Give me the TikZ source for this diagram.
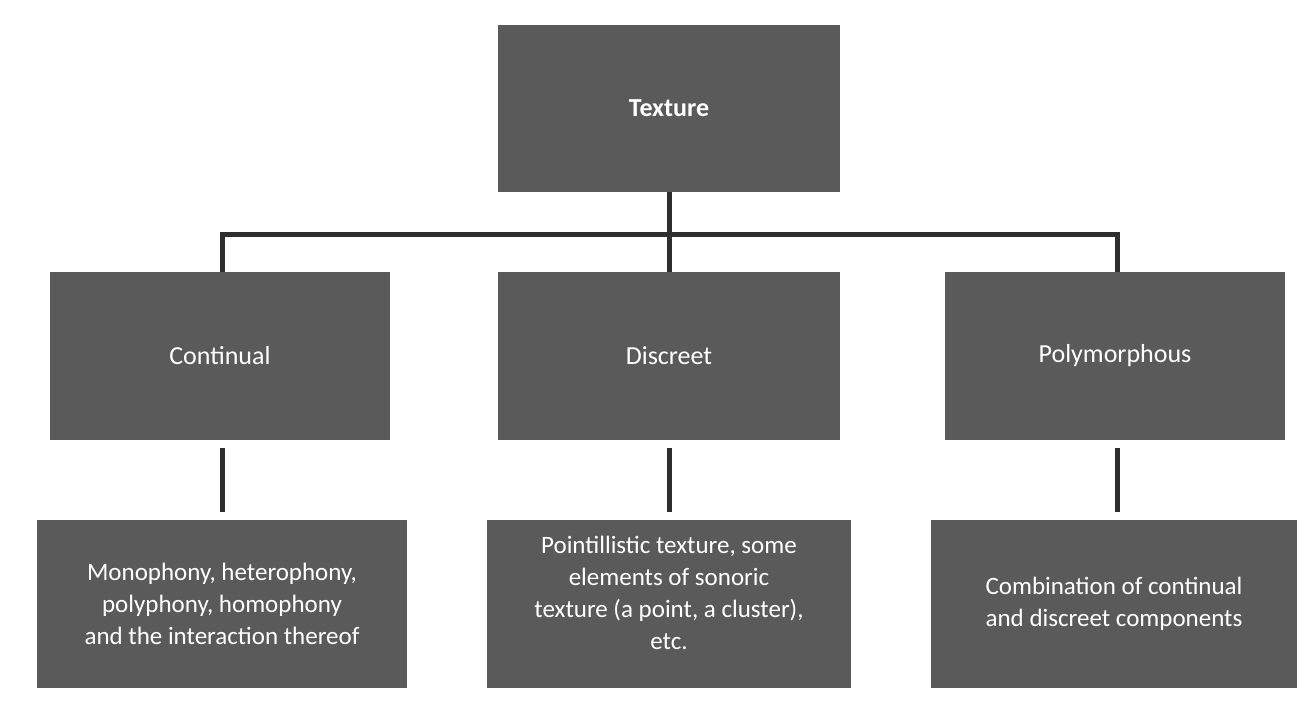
\documentclass[tikz,border=0pt]{standalone}
\usepackage{fontspec}
\setmainfont{Carlito}
\begin{document}
\begin{tikzpicture}[x=1pt,y=-1pt,
  box/.style={fill=boxgray,draw=none,text=white,align=center,inner sep=0pt},
  conn/.style={line width=5pt,draw=linegray}]
\definecolor{boxgray}{HTML}{5A5A5A}
\definecolor{linegray}{HTML}{2E2E2E}
\useasboundingbox (0,0) rectangle (1315,703);
\node[box,minimum width=342,minimum height=167,font=\fontsize{26}{30}\selectfont\bfseries] (tex) at (669,108.5) {Texture};
\node[box,minimum width=340,minimum height=168,font=\fontsize{26}{30}\selectfont] (con) at (220,356) {Continual};
\node[box,minimum width=342,minimum height=168,font=\fontsize{26}{30}\selectfont] (dis) at (669,356) {Discreet};
\node[box,minimum width=340,minimum height=168,font=\fontsize{26}{30}\selectfont] (pol) at (1115,356) {Polymorphous};
\node[box,minimum width=370,minimum height=168,font=\fontsize{25}{32}\selectfont] (b1) at (222,604) {Monophony, heterophony,\\polyphony, homophony\\and the interaction thereof};
\node[box,minimum width=364,minimum height=168,font=\fontsize{25}{32}\selectfont,anchor=north] (b2) at (669,520) {};
\node[text=white,align=center,font=\fontsize{25}{32}\selectfont,anchor=north,inner sep=0pt] (b2t) at (669,536) {Pointillistic texture, some\\elements of sonoric\\texture (a point, a cluster),\\etc.};
\node[box,minimum width=366,minimum height=168,font=\fontsize{25}{32}\selectfont] (b3) at (1114,604) {Combination of continual\\and discreet components};
\coordinate (j) at (669,235);
\draw[conn] (tex.south) -- (j);
\draw[conn] (222,272) -- (222,235) -- (1117,235) -- (1117,272);
\draw[conn] (j) -- (dis.north);
\draw[conn] (222,448) -- (222,512);
\draw[conn] (669,448) -- (669,512);
\draw[conn] (1117,448) -- (1117,512);
\end{tikzpicture}
\end{document}
